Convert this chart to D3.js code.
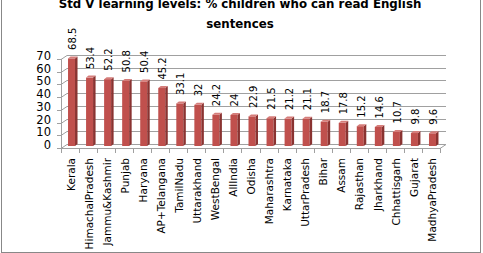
<!DOCTYPE html>
<html>
<head>
<meta charset="utf-8">
<script src="https://cdn.jsdelivr.net/npm/d3@7"></script>
<style>
  body { margin: 0; background: #fff; }
  svg { display: block; }
  text { font-family: "DejaVu Sans", sans-serif; fill: #000; }
</style>
</head>
<body>
<div id="chart"></div>
<script>
// data
var states = ["Kerala", "HimachalPradesh", "Jammu&Kashmir", "Punjab", "Haryana",
    "AP+Telangana", "TamilNadu", "Uttarakhand", "WestBengal", "AllIndia",
    "Odisha", "Maharashtra", "Karnataka", "UttarPradesh", "Bihar", "Assam",
    "Rajasthan", "Jharkhand", "Chhattisgarh", "Gujarat", "MadhyaPradesh"];
var values = [68.5, 53.4, 52.2, 50.8, 50.4, 45.2, 33.1, 32, 24.2, 24,
    22.9, 21.5, 21.2, 21.1, 18.7, 17.8, 15.2, 14.6, 10.7, 9.8, 9.6];
var labels = ["68.5", "53.4", "52.2", "50.8", "50.4", "45.2", "33.1", "32", "24.2", "24",
    "22.9", "21.5", "21.2", "21.1", "18.7", "17.8", "15.2", "14.6", "10.7", "9.8", "9.6"];
var yTicks = [0, 10, 20, 30, 40, 50, 60, 70];
var titleLines = ["Std V learning levels: % children who can read English", "sentences"];

var W = 483, H = 253;
var dx = 6, dy = 4; // depth of the 3d floor

var svg = d3.select("#chart").append("svg")
    .attr("width", W)
    .attr("height", H);

// outer frame
svg.append("rect")
    .attr("x", 1.5).attr("y", -5)
    .attr("width", 479).attr("height", 257.5)
    .style("fill", "none")
    .style("stroke", "#888");

var x = d3.scaleBand().domain(states).range([61, 440]).padding(0);
var y = d3.scaleLinear().domain([0, 70]).range([144, 55]);

// back wall gridlines + side wall diagonals
var grid = svg.append("g");
grid.selectAll("line.back")
    .data(yTicks).enter().append("line")
    .attr("x1", 61 + dx).attr("x2", 440 + dx)
    .attr("y1", d => Math.round(y(d)) + 0.5)
    .attr("y2", d => Math.round(y(d)) + 0.5)
    .style("stroke", "#a0a0a0");
grid.selectAll("line.side")
    .data(yTicks).enter().append("line")
    .attr("x1", 61).attr("x2", 61 + dx)
    .attr("y1", d => Math.round(y(d)) + 0.5 + dy)
    .attr("y2", d => Math.round(y(d)) + 0.5)
    .style("stroke", "#a0a0a0");
// floor right edge
grid.append("line")
    .attr("x1", 440).attr("x2", 440 + dx)
    .attr("y1", y(0) + dy + 0.5).attr("y2", y(0) + 0.5)
    .style("stroke", "#a0a0a0");

// y axis (front)
grid.append("line")
    .attr("x1", 61.5).attr("x2", 61.5)
    .attr("y1", y(70) + dy).attr("y2", y(0) + dy + 1)
    .style("stroke", "#a0a0a0");
grid.selectAll("line.ytick")
    .data(yTicks).enter().append("line")
    .attr("x1", 57).attr("x2", 61)
    .attr("y1", d => Math.round(y(d)) + 0.5 + dy)
    .attr("y2", d => Math.round(y(d)) + 0.5 + dy)
    .style("stroke", "#a0a0a0");
svg.selectAll("text.ylab")
    .data(yTicks).enter().append("text")
    .attr("x", 51)
    .attr("y", d => y(d) + 1)
    .attr("dy", "0.35em")
    .attr("text-anchor", "end")
    .style("font-size", "11.5px")
    .text(d => d);

// x axis (front)
grid.append("line")
    .attr("x1", 61).attr("x2", 440)
    .attr("y1", y(0) + dy + 0.5).attr("y2", y(0) + dy + 0.5)
    .style("stroke", "#a0a0a0");
grid.selectAll("line.xtick")
    .data(states.concat(["end"])).enter().append("line")
    .attr("x1", (d, i) => Math.round(61 + i * x.bandwidth()) + 0.5)
    .attr("x2", (d, i) => Math.round(61 + i * x.bandwidth()) + 0.5)
    .attr("y1", y(0) + dy).attr("y2", y(0) + dy + 5)
    .style("stroke", "#a0a0a0");

// bars
var bw = 7, side = 2.5;
var bars = svg.selectAll("g.bar")
    .data(values).enter().append("g")
    .attr("class", "bar");
function cx(i) { return x(states[i]) + x.bandwidth() / 2 + 1.5; }
bars.append("rect")
    .attr("x", (d, i) => cx(i) - bw / 2)
    .attr("y", d => y(d) + 1.5)
    .attr("width", bw)
    .attr("height", d => y(0) + 2 - (y(d) + 1.5))
    .style("fill", "#c0504d");
bars.append("polygon")
    .attr("points", (d, i) => {
        var r = cx(i) + bw / 2;
        return [[r, y(d) + 1.5], [r + side, y(d) - 0.5], [r + side, y(0)], [r, y(0) + 2]].join(" ");
    })
    .style("fill", "#8a3331");
bars.append("polygon")
    .attr("points", (d, i) => {
        var l = cx(i) - bw / 2, r = cx(i) + bw / 2;
        return [[l, y(d) + 1.5], [l + side, y(d) - 0.5], [r + side, y(d) - 0.5], [r, y(d) + 1.5]].join(" ");
    })
    .style("fill", "#d57d7a");

// value labels
svg.selectAll("text.val")
    .data(values).enter().append("text")
    .attr("transform", (d, i) => "translate(" + (cx(i) + 1) + "," + (y(d) - 7) + ") rotate(-90)")
    .attr("dy", "0.35em")
    .style("font-size", "10px")
    .text((d, i) => labels[i]);

// category labels
svg.selectAll("text.cat")
    .data(states).enter().append("text")
    .attr("transform", d => "translate(" + (x(d) + x.bandwidth() / 2 + 1) + ",158) rotate(-90)")
    .attr("dy", "0.35em")
    .attr("text-anchor", "end")
    .style("font-size", "10.5px")
    .text(d => d);

// title
svg.selectAll("text.title")
    .data(titleLines).enter().append("text")
    .attr("x", 240)
    .attr("y", (d, i) => 8 + i * 20)
    .attr("text-anchor", "middle")
    .style("font-size", "11.8px")
    .style("font-weight", "bold")
    .text(d => d);
</script>
</body>
</html>
